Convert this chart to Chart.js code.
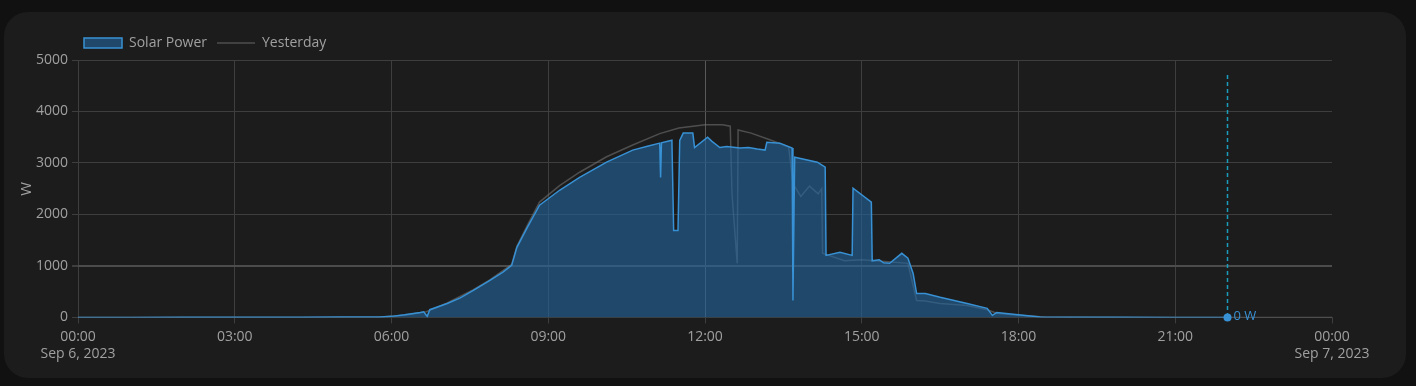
<!DOCTYPE html>
<html>
<head>
<meta charset="utf-8">
<script src="https://cdn.jsdelivr.net/npm/chart.js@4/dist/chart.umd.min.js"></script>
<style>
  html, body { margin: 0; padding: 0; background: #111111; }
  body { width: 1416px; height: 386px; position: relative; overflow: hidden; }
  .card { position: absolute; left: 4px; top: 12px; width: 1402px; height: 366px; border-radius: 24px; background: #1c1c1c; }
  #chart { position: absolute; left: 0; top: 0; }
</style>
</head>
<body>
<div class="card"></div>
<canvas id="chart" width="1416" height="386"></canvas>
<script>
(() => {
  'use strict';

  // today (Solar Power)
  const solarTimes = ['00:00', '01:00', '02:00', '03:00', '04:15', '05:00', '05:47', '06:00', '06:15', '06:33',
    '06:37', '06:41', '06:44', '07:04', '07:19', '07:34', '07:53', '08:08', '08:18', '08:24',
    '08:36', '08:50', '09:13', '09:36', '10:07', '10:37', '10:55', '11:08', '11:09', '11:10',
    '11:22', '11:24', '11:29', '11:31', '11:35', '11:46', '11:48', '12:03', '12:08', '12:17',
    '12:25', '12:40', '12:50', '13:00', '13:09', '13:11', '13:26', '13:40', '13:41', '13:43',
    '14:09', '14:18', '14:19', '14:35', '14:49', '14:50', '15:11', '15:12', '15:20', '15:25',
    '15:32', '15:46', '15:53', '15:59', '16:03', '16:13', '16:30', '17:01', '17:24', '17:30',
    '17:35', '17:54', '18:25', '19:00', '20:00', '21:00', '22:00'];
  const solarValues = [0, 0, 5, 5, 5, 8, 10, 20, 50, 95,
    110, 20, 150, 270, 380, 525, 720, 880, 1010, 1360,
    1750, 2180, 2470, 2720, 3015, 3250, 3330, 3385, 2720, 3390,
    3440, 1690, 1690, 3440, 3580, 3580, 3300, 3500, 3420, 3300,
    3320, 3290, 3300, 3270, 3250, 3400, 3385, 3290, 330, 3110,
    3015, 2920, 1205, 1265, 1205, 2510, 2240, 1100, 1120, 1060,
    1050, 1245, 1150, 855, 465, 465, 390, 270, 175, 40,
    95, 60, 10, 5, 2, 0, 0];

  // yesterday, same clock times
  const yesterdayTimes = ['00:00', '05:45', '06:15', '06:40', '07:04', '07:34', '07:53', '08:18', '08:24', '08:36',
    '08:50', '09:13', '09:36', '10:07', '10:37', '11:08', '11:30', '12:00', '12:20', '12:29',
    '12:31', '12:37', '12:38', '12:53', '13:16', '13:36', '13:41', '13:50', '14:00', '14:10',
    '14:14', '14:15', '14:40', '15:00', '15:30', '15:53', '16:03', '16:13', '16:30', '17:01',
    '17:24', '17:35', '18:00', '18:30', '20:00', '24:00'];
  const yesterdayValues = [0, 5, 40, 110, 280, 540, 730, 1030, 1380, 1790,
    2240, 2560, 2820, 3120, 3350, 3570, 3680, 3740, 3740, 3715,
    2400, 1050, 3640, 3580, 3440, 3310, 2600, 2350, 2550, 2400,
    2500, 1245, 1100, 1120, 1080, 1050, 330, 320, 270, 230,
    150, 80, 40, 10, 0, 0];

  const xTicks = [0, 180, 360, 540, 720, 900, 1080, 1260, 1440];
  const dateLabels = ['Sep 6, 2023', 'Sep 7, 2023'];
  const yTicks = [0, 1000, 2000, 3000, 4000, 5000];

  const nowTime = '22:00';
  const nowValue = 0;

  const TEXT = '#a0a0a0';
  const GRID = '#3e3e3e';
  const BLUE = 'rgb(56, 145, 212)';
  const FONT = "'Open Sans', sans-serif";

  const toMin = s => {
    const [h, m] = s.split(':').map(Number);
    return h * 60 + m;
  };
  const pad = n => String(n).padStart(2, '0');
  const toPoints = (times, vals) => times.map((t, i) => ({ x: toMin(t), y: vals[i] }));

  const nowMarker = {
    id: 'nowMarker',
    afterDatasetsDraw(chart) {
      const { ctx, chartArea, scales } = chart;
      const x = scales.x.getPixelForValue(toMin(nowTime));
      const y = scales.y.getPixelForValue(nowValue);
      ctx.save();
      ctx.strokeStyle = '#1a9cbc';
      ctx.lineWidth = 1.5;
      ctx.setLineDash([4, 3]);
      ctx.beginPath();
      ctx.moveTo(x, chartArea.top + 15);
      ctx.lineTo(x, y);
      ctx.stroke();
      ctx.setLineDash([]);
      ctx.fillStyle = BLUE;
      ctx.beginPath();
      ctx.arc(x, y, 4, 0, Math.PI * 2);
      ctx.fill();
      ctx.font = `13px ${FONT}`;
      ctx.textBaseline = 'middle';
      ctx.fillText(`${nowValue} W`, x + 6, y - 1);
      ctx.restore();
    }
  };

  // push legend items to the right, under the plot start
  const legendShift = {
    id: 'legendShift',
    beforeDraw(chart) {
      if (chart.legend) chart.legend.left = 74;
    }
  };

  new Chart(document.getElementById('chart'), {
    type: 'line',
    data: {
      datasets: [{
        label: 'Solar Power',
        data: toPoints(solarTimes, solarValues),
        borderColor: BLUE,
        backgroundColor: 'rgba(34, 102, 160, 0.6)',
        borderWidth: 1.5,
        fill: 'origin',
        pointRadius: 0,
        pointStyle: 'rect',
        tension: 0,
        order: 1
      }, {
        label: 'Yesterday',
        data: toPoints(yesterdayTimes, yesterdayValues),
        borderColor: 'rgba(120, 120, 120, 0.55)',
        backgroundColor: 'transparent',
        borderWidth: 1.5,
        fill: false,
        pointRadius: 0,
        pointStyle: 'line',
        tension: 0,
        order: 2
      }]
    },
    options: {
      responsive: false,
      animation: false,
      layout: { padding: { left: 14, right: 84, top: 26, bottom: 19 } },
      scales: {
        x: {
          type: 'linear',
          min: 0,
          max: 1440,
          afterBuildTicks: s => { s.ticks = xTicks.map(v => ({ value: v })); },
          ticks: {
            color: TEXT,
            font: { family: FONT, size: 14 },
            maxRotation: 0,
            padding: 5,
            callback: v => {
              const lbl = `${pad(Math.floor(v / 60) % 24)}:00`;
              if (v === 0) return [lbl, dateLabels[0]];
              if (v === 1440) return [lbl, dateLabels[1]];
              return lbl;
            }
          },
          grid: {
            color: c => c.tick && c.tick.value === 1440 ? 'transparent' : (c.tick && c.tick.value === 720 ? '#585858' : GRID),
            tickColor: GRID,
            tickLength: 6
          },
          border: { display: false }
        },
        y: {
          min: 0,
          max: 5000,
          afterBuildTicks: s => { s.ticks = yTicks.map(v => ({ value: v })); },
          afterFit: s => { s.width = 64; },
          title: {
            display: true,
            text: 'W',
            color: TEXT,
            font: { family: FONT, size: 15 }
          },
          ticks: {
            color: TEXT,
            font: { family: FONT, size: 14 },
            padding: 4,
            callback: v => String(v)
          },
          grid: {
            color: c => c.tick && c.tick.value === 1000 ? '#4c4c4c' : GRID,
            lineWidth: c => c.tick && c.tick.value === 1000 ? 2 : 1,
            tickColor: GRID,
            tickLength: 6
          },
          border: { display: false }
        }
      },
      plugins: {
        legend: {
          align: 'start',
          labels: {
            color: TEXT,
            font: { family: FONT, size: 14 },
            usePointStyle: true,
            pointStyleWidth: 38,
            boxHeight: 10,
            padding: 10
          }
        },
        tooltip: { enabled: false }
      }
    },
    plugins: [nowMarker, legendShift]
  });
})();
</script>
</body>
</html>
